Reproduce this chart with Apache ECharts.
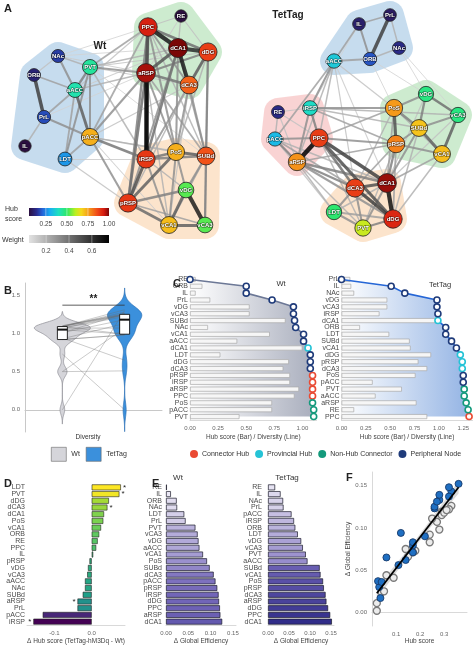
<!DOCTYPE html>
<html>
<head>
<meta charset="utf-8">
<script src="https://cdn.jsdelivr.net/npm/echarts@6/dist/echarts.min.js"></script>
<style>
  html, body { margin: 0; padding: 0; background: #fff; }
  #main { width: 474px; height: 646px; }
</style>
</head>
<body>
<div id="main"></div>
<script>
// ---- data ----
var regions = ['RE','ORB','IL','PrL','vDG','vCA3','SUBd','NAc','vCA1','aACC','dCA1','LDT','dDG','dCA3','pRSP','iRSP','aRSP','PPC','PoS','pACC','PVT'];

// hub score (scaled), panel C bars
var wtHub  = [0.05,0.11,0.05,0.18,0.53,0.53,0.85,0.16,0.71,0.42,1.00,0.27,0.88,0.83,0.89,0.89,0.97,0.93,0.73,0.73,0.44];
var tetHub = [0.13,0.19,0.10,0.09,0.47,0.47,0.70,0.13,0.71,0.35,0.98,0.49,0.92,0.88,0.79,0.39,0.77,0.88,0.76,0.32,0.62];
// diversity, panel C lines / panel B
var wtDiv  = [0.00,0.50,0.50,0.73,0.92,0.92,0.93,0.94,1.01,1.01,1.05,1.07,1.07,1.07,1.09,1.09,1.09,1.09,1.09,1.10,1.10];
var tetDiv = [1.30,1.07,0.51,0.00,0.98,0.98,1.13,0.65,1.18,1.26,0.99,1.07,1.22,1.24,1.24,0.99,1.28,1.31,1.25,1.25,1.26];
// node role
var wtRole  = ['P','P','P','P','P','P','P','P','P','P','PH','P','P','P','CH','CH','CH','CH','NC','NC','NC'];
var tetRole = ['NC','P','P','P','P','P','P','P','P','NC','PH','P','PH','PH','PH','P','NC','CH','P','P','NC'];
// panel D: delta hub score
var deltaHub = [0.016,0.020,0.004,-0.038,-0.010,-0.012,-0.024,-0.018,0.025,-0.018,0.033,0.078,0.046,0.042,-0.006,-0.156,-0.038,0.012,0.031,-0.131,0.074];
var deltaSig = ['LDT','PVT','dCA3','aRSP','iRSP'];
// panel E: delta global efficiency
var wtGE  = [0.002,0.024,0.011,0.044,0.073,0.071,0.098,0.025,0.083,0.075,0.126,0.041,0.119,0.107,0.115,0.118,0.122,0.121,0.092,0.111,0.066];
var tetGE = [0.017,0.065,0.030,0.037,0.079,0.083,0.123,0.036,0.125,0.094,0.152,0.071,0.143,0.137,0.133,0.062,0.139,0.148,0.131,0.056,0.090];
// panel F: raw hub score
var wtRawHub  = [0.02,0.04,0.02,0.06,0.18,0.17,0.28,0.05,0.24,0.14,0.33,0.09,0.29,0.27,0.29,0.30,0.32,0.31,0.24,0.25,0.15];
var tetRawHub = [0.035,0.06,0.03,0.025,0.17,0.17,0.26,0.04,0.26,0.12,0.36,0.17,0.33,0.32,0.28,0.14,0.28,0.32,0.27,0.11,0.22];

// category orders
var cWtOrder  = ['RE','ORB','IL','PrL','vDG','vCA3','SUBd','NAc','vCA1','aACC','dCA1','LDT','dDG','dCA3','pRSP','iRSP','aRSP','PPC','PoS','pACC','PVT'];
var cTetOrder = ['PrL','IL','NAc','vDG','vCA3','iRSP','dCA1','ORB','LDT','SUBd','vCA1','dDG','pRSP','dCA3','PoS','pACC','PVT','aACC','aRSP','RE','PPC'];
var dOrder    = ['LDT','PVT','dDG','dCA3','dCA1','PoS','vCA1','ORB','RE','PPC','IL','pRSP','vDG','vCA3','aACC','NAc','SUBd','aRSP','PrL','pACC','iRSP'];
var eWtOrder  = ['RE','IL','ORB','NAc','LDT','PrL','PVT','vCA3','vDG','aACC','vCA1','PoS','SUBd','dCA3','pACC','pRSP','iRSP','dDG','PPC','aRSP','dCA1'];
var eTetOrder = ['RE','IL','NAc','PrL','pACC','iRSP','ORB','LDT','vDG','vCA3','PVT','aACC','SUBd','vCA1','PoS','pRSP','dCA3','aRSP','dDG','PPC','dCA1'];

// network layouts (panel A)
var wtLayoutX  = [181,34,25,44,186,205,206,58,169,75,178,65,208,189,128,146,146,148,176,90,90];
var wtLayoutY  = [16,75,146,117,190,225,156,56,225,90,48,159,52,85,203,159,73,27,152,137,67];
var tetLayoutX = [278,370,359,390,426,458,419,399,442,334,387,334,393,355,396,310,297,319,394,275,363];
var tetLayoutY = [112,59,24,15,94,115,128,48,154,61,183,212,219,188,144,108,162,138,108,139,228];

var wtModules  = [['ORB','NAc','PVT','aACC','PrL','pACC','IL','LDT'],['PPC','RE','dCA1','dDG','aRSP','dCA3'],['iRSP','PoS','SUBd','vDG','pRSP','vCA1','vCA3']];
var tetModules = [['aACC','IL','PrL','NAc','ORB'],['RE','iRSP','pACC','PPC','aRSP'],['PoS','vDG','vCA3','SUBd','pRSP','vCA1'],['dCA3','dCA1','LDT','PVT','dDG']];

var wtEdges = [
  ['PPC','dCA1',0.68],['dCA1','dDG',0.62],['dCA1','dCA3',0.66],['PPC','aRSP',0.5],['dCA1','aRSP',0.48],['PPC','dDG',0.4],['aRSP','dDG',0.35],['aRSP','dCA3',0.38],['PPC','dCA3',0.3],['dDG','dCA3',0.45],['RE','PPC',0.15],['RE','dDG',0.15],['RE','dCA1',0.18],['RE','aRSP',0.12],
  ['iRSP','PoS',0.38],['PoS','SUBd',0.45],['iRSP','SUBd',0.35],['iRSP','pRSP',0.5],['PoS','pRSP',0.45],['vDG','vCA3',0.66],['vDG','vCA1',0.45],['vCA1','vCA3',0.45],['pRSP','vCA1',0.42],['pRSP','vDG',0.35],['SUBd','vCA3',0.35],['SUBd','vDG',0.3],['PoS','vCA1',0.3],['pRSP','vCA3',0.25],['iRSP','vCA1',0.3],['PoS','vDG',0.3],['SUBd','vCA1',0.25],['iRSP','vDG',0.2],
  ['aRSP','iRSP',0.75],['PPC','iRSP',0.45],['aRSP','pRSP',0.4],['PPC','pRSP',0.35],['dCA1','iRSP',0.4],['dCA1','PoS',0.3],['dDG','SUBd',0.35],['dCA3','SUBd',0.3],['dCA3','PoS',0.3],['dDG','vCA3',0.2],['dCA1','SUBd',0.25],['PPC','PoS',0.3],['aRSP','PoS',0.3],['aRSP','SUBd',0.25],['dCA3','iRSP',0.25],['dDG','PoS',0.2],['PPC','SUBd',0.2],['dCA3','vCA1',0.15],['dDG','iRSP',0.2],['dCA1','pRSP',0.3],['aRSP','vCA1',0.2],['dCA3','pRSP',0.2],
  ['ORB','PrL',0.55],['NAc','aACC',0.3],['PVT','aACC',0.35],['aACC','pACC',0.45],['PVT','LDT',0.3],['aACC','LDT',0.25],['PrL','aACC',0.25],['ORB','aACC',0.25],['PrL','IL',0.2],['PrL','pACC',0.3],['NAc','PVT',0.2],['pACC','LDT',0.25],['ORB','NAc',0.15],['PVT','pACC',0.3],
  ['pACC','iRSP',0.38],['pACC','pRSP',0.3],['pACC','aRSP',0.3],['pACC','PPC',0.25],['pACC','PoS',0.2],['PVT','aRSP',0.3],['PVT','PPC',0.25],['PVT','dCA1',0.2],['PVT','iRSP',0.2],['aACC','aRSP',0.2],['PVT','dDG',0.15],['NAc','PPC',0.1],['NAc','aRSP',0.12],['PVT','dCA3',0.15],['LDT','pRSP',0.15],['pACC','SUBd',0.15],['PrL','aRSP',0.1],['aACC','PPC',0.15],['aACC','dCA1',0.12],['pACC','dCA3',0.15],['pACC','vCA1',0.12],['LDT','iRSP',0.12],['PVT','SUBd',0.1],['NAc','dCA1',0.1]
];
var tetEdges = [
  ['PPC','aRSP',0.75],['dCA1','dDG',0.7],['PPC','dCA1',0.55],['dCA3','dCA1',0.5],['dCA3','dDG',0.55],['PrL','ORB',0.55],['PoS','pRSP',0.5],['vDG','vCA3',0.4],['SUBd','vCA1',0.45],['PPC','dDG',0.5],['aRSP','dCA3',0.35],
  ['IL','PrL',0.25],['IL','ORB',0.3],['IL','aACC',0.25],['aACC','ORB',0.25],['NAc','ORB',0.2],['NAc','PrL',0.2],['aACC','iRSP',0.3],['aACC','pACC',0.25],['aACC','PPC',0.2],['aACC','aRSP',0.2],['RE','pACC',0.2],['RE','iRSP',0.15],['iRSP','PPC',0.35],['iRSP','aRSP',0.3],['pACC','aRSP',0.35],['pACC','PPC',0.3],['iRSP','PoS',0.3],['iRSP','SUBd',0.2],['iRSP','vCA3',0.2],['PoS','SUBd',0.35],['PoS','vDG',0.3],['vDG','SUBd',0.35],['vCA3','SUBd',0.3],['vCA3','vCA1',0.45],['SUBd','pRSP',0.3],['pRSP','vCA1',0.3],['PoS','vCA1',0.2],['PPC','PoS',0.25],['PPC','pRSP',0.3],['aRSP','pRSP',0.25],['aRSP','dCA1',0.35],['aRSP','dDG',0.3],['PPC','dCA3',0.4],['pACC','dCA3',0.25],['pACC','dCA1',0.2],['dCA1','pRSP',0.35],['dCA1','SUBd',0.3],['dCA1','vCA1',0.25],['dCA1','PoS',0.25],['dCA3','pRSP',0.25],['dCA3','LDT',0.3],['dCA3','PVT',0.3],['LDT','PVT',0.3],['PVT','dDG',0.35],['LDT','dDG',0.25],['PVT','dCA1',0.3],['dDG','pRSP',0.25],['dDG','vCA1',0.2],['aRSP','LDT',0.2],['aRSP','PVT',0.2],['PPC','PVT',0.2],['pACC','LDT',0.15],['vDG','dCA1',0.15],['vCA3','dCA1',0.15],['SUBd','dDG',0.2],['PoS','dCA3',0.2],['iRSP','pRSP',0.25],['ORB','vDG',0.1],['NAc','vDG',0.1],['NAc','vCA3',0.1],['ORB','PoS',0.1],['aACC','PoS',0.15],['aACC','dCA3',0.15],['RE','aRSP',0.15],['RE','PPC',0.15],['PVT','pRSP',0.2],['LDT','dCA1',0.2],['IL','iRSP',0.1],['aACC','dCA1',0.12]
];

// ---- styles / helpers ----
var FONT = '"Liberation Sans", Arial, sans-serif';
var hubStops = [[0.05,'#2b0f3f'],[0.14,'#2a2d8f'],[0.21,'#2464d8'],[0.30,'#1ab0f0'],[0.40,'#1fe0c0'],[0.50,'#2ee866'],[0.60,'#b8f020'],[0.67,'#f5d81c'],[0.76,'#f59a1a'],[0.86,'#f04a18'],[0.94,'#d41a10'],[1.00,'#7a0606']];
var weightStops = [[0.05,'#e2e2e2'],[0.75,'#000000']];
var viridisStops = [[0,'#440154'],[0.11,'#482878'],[0.22,'#3e4989'],[0.33,'#31688e'],[0.44,'#26828e'],[0.56,'#1f9e89'],[0.67,'#35b779'],[0.78,'#6ece58'],[0.89,'#b5de2b'],[1,'#fde725']];
var purpleStops = [[0,'#f3f1f9'],[0.05,'#cdc7e5'],[0.09,'#9d93cf'],[0.12,'#6f63b6'],[0.155,'#2b2885']];
var roleNames = {CH:'Connector Hub', PH:'Provincial Hub', NC:'Non-Hub Connector', P:'Peripheral Node'};
var roleColors = {CH:'#ea4a33', PH:'#25c3d6', NC:'#149a7c', P:'#1f3b7a'};

function idx(n) { return regions.indexOf(n); }
function pick(arr, order) { return order.map(function (n) { return arr[idx(n)]; }); }
function ramp(stops, v) {
  if (v <= stops[0][0]) return stops[0][1];
  for (var i = 1; i < stops.length; i++) {
    if (v <= stops[i][0]) {
      var t = (v - stops[i - 1][0]) / (stops[i][0] - stops[i - 1][0]);
      return echarts.color.lerp(t, [stops[i - 1][1], stops[i][1]]);
    }
  }
  return stops[stops.length - 1][1];
}
function quantile(sorted, p) {
  var h = (sorted.length - 1) * p, lo = Math.floor(h);
  return sorted[lo] + (h - lo) * ((sorted[Math.min(lo + 1, sorted.length - 1)]) - sorted[lo]);
}
function kde(vals) {
  var n = vals.length, mean = vals.reduce(function (a, b) { return a + b; }) / n;
  var sd = Math.sqrt(vals.reduce(function (a, b) { return a + (b - mean) * (b - mean); }, 0) / (n - 1));
  var s = vals.slice().sort(function (a, b) { return a - b; });
  var bw = 0.9 * Math.min(sd, (quantile(s, 0.75) - quantile(s, 0.25)) / 1.34) * Math.pow(n, -0.2);
  var lo = s[0] - 3 * bw, hi = s[n - 1] + 3 * bw, out = [];
  for (var k = 0; k <= 160; k++) {
    var y = lo + (hi - lo) * k / 160, d = 0;
    vals.forEach(function (v) { var u = (y - v) / bw; d += Math.exp(-0.5 * u * u); });
    out.push([y, d / (n * bw * Math.sqrt(2 * Math.PI))]);
  }
  return out;
}
function convexHull(pts) {
  pts = pts.slice().sort(function (a, b) { return a[0] - b[0] || a[1] - b[1]; });
  function cross(o, a, b) { return (a[0] - o[0]) * (b[1] - o[1]) - (a[1] - o[1]) * (b[0] - o[0]); }
  var lower = [], upper = [];
  pts.forEach(function (p) { while (lower.length >= 2 && cross(lower[lower.length - 2], lower[lower.length - 1], p) <= 0) lower.pop(); lower.push(p); });
  for (var i = pts.length - 1; i >= 0; i--) { var p = pts[i]; while (upper.length >= 2 && cross(upper[upper.length - 2], upper[upper.length - 1], p) <= 0) upper.pop(); upper.push(p); }
  upper.pop(); lower.pop();
  return lower.concat(upper);
}

var chart = echarts.init(document.getElementById('main'), null, { renderer: 'canvas' });

// ---- panel A ----
function networkSeries(lx, ly, hub, edges) {
  return {
    type: 'graph', layout: 'none', coordinateSystem: 'cartesian2d', xAxisIndex: 0, yAxisIndex: 0, z: 3,
    silent: true, animation: false,
    data: regions.map(function (r, i) {
      return { name: r, value: [lx[i], ly[i]], symbolSize: 12 + 7 * hub[i], itemStyle: { color: ramp(hubStops, hub[i]) } };
    }),
    links: edges.slice().sort(function (a, b) { return a[2] - b[2]; }).map(function (e) {
      return { source: e[0], target: e[1], lineStyle: { width: 0.4 + e[2] * 5.5, color: ramp(weightStops, e[2]), opacity: 0.85 } };
    }),
    itemStyle: { borderColor: '#222', borderWidth: 0.8 },
    label: { show: true, position: 'inside', color: '#fff', fontSize: 6, fontWeight: 'bold', fontFamily: FONT, textBorderColor: 'rgba(0,0,0,0.55)', textBorderWidth: 1.2 },
    lineStyle: { curveness: 0 }
  };
}
function hullSeries(lx, ly, modules, colors) {
  return {
    type: 'custom', coordinateSystem: 'cartesian2d', xAxisIndex: 0, yAxisIndex: 0, z: 1, silent: true, animation: false,
    data: modules.map(function (m) { return [lx[idx(m[0])], ly[idx(m[0])]]; }),
    renderItem: function (params, api) {
      var pts = [];
      modules[params.dataIndex].forEach(function (n) {
        var c = api.coord([lx[idx(n)], ly[idx(n)]]);
        for (var a = 0; a < 28; a++) {
          var t = a / 28 * Math.PI * 2;
          pts.push([c[0] + 14 * Math.cos(t), c[1] + 14 * Math.sin(t)]);
        }
      });
      return { type: 'polygon', shape: { points: convexHull(pts) }, style: { fill: colors[params.dataIndex] } };
    }
  };
}

// ---- panel B ----
var wtCurve = kde(wtDiv), tetCurve = kde(tetDiv);
var maxDensity = Math.max.apply(null, wtCurve.concat(tetCurve).map(function (p) { return p[1]; }));
function violinSeries(name, center, curve, fill, stroke) {
  return {
    type: 'custom', name: name, coordinateSystem: 'cartesian2d', xAxisIndex: 1, yAxisIndex: 1, z: 2, silent: true, animation: false,
    itemStyle: { color: fill },
    data: [[center, 1]],
    renderItem: function (params, api) {
      var right = [], left = [];
      curve.forEach(function (p) {
        var w = p[1] / maxDensity * 0.45;
        right.push(api.coord([center + w, p[0]]));
        left.push(api.coord([center - w, p[0]]));
      });
      return { type: 'polygon', shape: { points: right.concat(left.reverse()) }, style: { fill: fill, stroke: stroke, lineWidth: 0.7 } };
    }
  };
}
function boxStats(vals, center) {
  var s = vals.slice().sort(function (a, b) { return a - b; });
  return [center, quantile(s, 0.25), quantile(s, 0.5), quantile(s, 0.75)];
}

// ---- panel F regression ----
var fx = wtRawHub.concat(tetRawHub), fy = wtGE.concat(tetGE);
var fn = fx.length, mx = fx.reduce(function (a, b) { return a + b; }) / fn, my = fy.reduce(function (a, b) { return a + b; }) / fn;
var sxx = 0, sxy = 0;
for (var i = 0; i < fn; i++) { sxx += (fx[i] - mx) * (fx[i] - mx); sxy += (fx[i] - mx) * (fy[i] - my); }
var slope = sxy / sxx, icpt = my - slope * mx, sse = 0;
for (i = 0; i < fn; i++) { var r = fy[i] - icpt - slope * fx[i]; sse += r * r; }
var sRes = Math.sqrt(sse / (fn - 2));
var xLo = Math.min.apply(null, fx), xHi = Math.max.apply(null, fx);
var bandUp = [], bandDn = [];
for (var k = 0; k <= 30; k++) {
  var xv = xLo + (xHi - xLo) * k / 30;
  var se = 2.02 * sRes * Math.sqrt(1 / fn + (xv - mx) * (xv - mx) / sxx);
  bandUp.push([xv, icpt + slope * xv + se]);
  bandDn.push([xv, icpt + slope * xv - se]);
}

// ---- axes helpers ----
var lbl = { fontFamily: FONT, color: '#666', fontSize: 6 };
function hiddenValueAxis(gi, min, max, inverse) {
  return { type: 'value', gridIndex: gi, min: min, max: max, inverse: !!inverse, show: false };
}
function catAxis(gi, order, margin) {
  return {
    type: 'category', gridIndex: gi, data: order, inverse: true,
    axisLine: { show: false }, axisTick: { show: false },
    axisLabel: { fontFamily: FONT, color: '#4a4a4a', fontSize: 7, margin: margin, interval: 0 }
  };
}
function valAxis(gi, min, max, ticks, digits, name, nameGap) {
  return {
    type: 'value', gridIndex: gi, min: min, max: max,
    axisLine: { show: true, lineStyle: { color: '#cfcfcf', width: 0.8 } }, axisTick: { show: false }, splitLine: { show: false },
    axisLabel: Object.assign({ customValues: ticks, margin: 5, formatter: function (v) { return v.toFixed(digits); } }, lbl),
    name: name, nameLocation: 'middle', nameGap: nameGap,
    nameTextStyle: { fontFamily: FONT, color: '#444', fontSize: 6.5 }
  };
}

// ---- panel C series ----
function cSeries(gi, order, hub, div, role, lineColor, areaColor) {
  var out = [
    { type: 'line', xAxisIndex: gi, yAxisIndex: gi, data: pick(div, order), symbol: 'none', z: 1, silent: true,
      lineStyle: { opacity: 0 },
      areaStyle: { opacity: 1, color: new echarts.graphic.LinearGradient(0, 0, 1, 0, [{ offset: 0, color: '#ffffff' }, { offset: 1, color: areaColor }]) } },
    { type: 'bar', xAxisIndex: gi, yAxisIndex: gi, data: pick(hub, order), barWidth: 5, z: 2, silent: true,
      itemStyle: { color: '#f6f6f6', borderColor: '#a9a9a9', borderWidth: 0.7 } },
    { type: 'line', xAxisIndex: gi, yAxisIndex: gi, data: pick(div, order), symbol: 'none', z: 3, silent: true,
      lineStyle: { color: lineColor, width: 1.6 } }
  ];
  ['CH', 'PH', 'NC', 'P'].forEach(function (rk) {
    out.push({
      type: 'scatter', name: roleNames[rk], xAxisIndex: gi, yAxisIndex: gi, z: 4, silent: true,
      symbol: 'circle', symbolSize: 6,
      itemStyle: { color: '#fff', borderColor: roleColors[rk], borderWidth: 1.6, opacity: 1 },
      data: order.filter(function (n) { return role[idx(n)] === rk; }).map(function (n) { return [div[idx(n)], n]; })
    });
  });
  return out;
}

var series = [];
series.push(hullSeries(wtLayoutX, wtLayoutY, wtModules, ['rgba(120,172,215,0.42)', 'rgba(130,205,135,0.40)', 'rgba(248,196,142,0.45)']));
series.push(hullSeries(tetLayoutX, tetLayoutY, tetModules, ['rgba(120,172,215,0.42)', 'rgba(240,150,150,0.42)', 'rgba(130,205,135,0.40)', 'rgba(248,196,142,0.45)']));
series.push(networkSeries(wtLayoutX, wtLayoutY, wtHub, wtEdges));
series.push(networkSeries(tetLayoutX, tetLayoutY, tetHub, tetEdges));

// B
series.push(violinSeries('Wt', 1, wtCurve, '#d5d5da', '#8d8d94'));
series.push(violinSeries('TetTag', 2, tetCurve, '#3b90dc', '#2a6fb5'));
series.push({
  type: 'custom', coordinateSystem: 'cartesian2d', xAxisIndex: 1, yAxisIndex: 1, z: 3, silent: true, animation: false,
  data: regions.map(function (r, i) { return [wtDiv[i], tetDiv[i]]; }),
  renderItem: function (params, api) {
    var a = api.coord([1, api.value(0)]), b = api.coord([2, api.value(1)]);
    return { type: 'line', shape: { x1: a[0], y1: a[1], x2: b[0], y2: b[1] }, style: { stroke: 'rgba(110,110,110,0.45)', lineWidth: 0.8 } };
  }
});
series.push({
  type: 'custom', coordinateSystem: 'cartesian2d', xAxisIndex: 1, yAxisIndex: 1, z: 4, silent: true, animation: false,
  data: [boxStats(wtDiv, 1), boxStats(tetDiv, 2)],
  renderItem: function (params, api) {
    var c = api.value(0);
    var tl = api.coord([c - 0.08, api.value(3)]), br = api.coord([c + 0.08, api.value(1)]);
    var m1 = api.coord([c - 0.08, api.value(2)]), m2 = api.coord([c + 0.08, api.value(2)]);
    return { type: 'group', children: [
      { type: 'rect', shape: { x: tl[0], y: tl[1], width: br[0] - tl[0], height: br[1] - tl[1] }, style: { fill: '#fff', stroke: '#111', lineWidth: 0.9 } },
      { type: 'line', shape: { x1: m1[0], y1: m1[1], x2: m2[0], y2: m2[1] }, style: { stroke: '#111', lineWidth: 2 } }
    ] };
  }
});
series.push({
  type: 'custom', coordinateSystem: 'cartesian2d', xAxisIndex: 1, yAxisIndex: 1, z: 4, silent: true, animation: false,
  data: [[1.5, 1.37]],
  renderItem: function (params, api) {
    var a = api.coord([1, api.value(1)]), b = api.coord([2, api.value(1)]), m = api.coord([1.5, api.value(1)]);
    return { type: 'group', children: [
      { type: 'line', shape: { x1: a[0], y1: a[1], x2: b[0], y2: b[1] }, style: { stroke: '#333', lineWidth: 0.8 } },
      { type: 'text', x: m[0], y: m[1] - 1, style: { text: '**', fontSize: 10, fontWeight: 'bold', fill: '#222', align: 'center', verticalAlign: 'bottom', fontFamily: FONT } }
    ] };
  }
});

// C
series = series.concat(cSeries(2, cWtOrder, wtHub, wtDiv, wtRole, '#6c7896', '#a9aebd'));
series = series.concat(cSeries(3, cTetOrder, tetHub, tetDiv, tetRole, '#2566d6', '#94b4e4'));

// D
var dMin = Math.min.apply(null, deltaHub), dMax = Math.max.apply(null, deltaHub);
series.push({
  type: 'bar', xAxisIndex: 4, yAxisIndex: 4, barCategoryGap: '12%', silent: true,
  data: dOrder.map(function (n) {
    var v = deltaHub[idx(n)];
    return {
      value: v,
      itemStyle: { color: ramp(viridisStops, (v - dMin) / (dMax - dMin)), borderColor: '#222', borderWidth: 0.6 },
      label: { show: deltaSig.indexOf(n) >= 0, position: v > 0 ? 'right' : 'left', formatter: '*', distance: 2, fontSize: 8, color: '#222', fontFamily: FONT }
    };
  })
});
// E
[[5, eWtOrder, wtGE], [6, eTetOrder, tetGE]].forEach(function (cfg) {
  series.push({
    type: 'bar', xAxisIndex: cfg[0], yAxisIndex: cfg[0], barCategoryGap: '12%', silent: true,
    data: cfg[1].map(function (n) {
      var v = cfg[2][idx(n)];
      return { value: v, itemStyle: { color: ramp(purpleStops, v), borderColor: '#1a1a2a', borderWidth: 0.7 } };
    })
  });
});
// F
series.push({
  type: 'custom', coordinateSystem: 'cartesian2d', xAxisIndex: 7, yAxisIndex: 7, z: 1, silent: true, animation: false,
  data: [[mx, my]],
  renderItem: function (params, api) {
    var pts = bandUp.map(function (p) { return api.coord(p); }).concat(bandDn.slice().reverse().map(function (p) { return api.coord(p); }));
    return { type: 'polygon', shape: { points: pts }, style: { fill: 'rgba(150,150,150,0.35)' } };
  }
});
series.push({
  type: 'scatter', xAxisIndex: 7, yAxisIndex: 7, z: 2, silent: true, symbolSize: 7,
  itemStyle: { color: '#ececec', borderColor: '#7a7a7a', borderWidth: 1.3, opacity: 1 },
  data: regions.map(function (r, i) { return [wtRawHub[i], wtGE[i]]; })
});
series.push({
  type: 'scatter', xAxisIndex: 7, yAxisIndex: 7, z: 3, silent: true, symbolSize: 7,
  itemStyle: { color: '#1f6fc2', borderColor: '#173a6a', borderWidth: 0.9, opacity: 1 },
  data: regions.map(function (r, i) { return [tetRawHub[i], tetGE[i]]; })
});
series.push({
  type: 'line', xAxisIndex: 7, yAxisIndex: 7, z: 4, silent: true, symbol: 'none',
  lineStyle: { color: '#000', width: 1.8 },
  data: [[xLo, icpt + slope * xLo], [xHi, icpt + slope * xHi]]
});

// ---- graphic: letters, titles, colour bars ----
function txt(x, y, text, size, opts) {
  opts = opts || {};
  return { type: 'text', x: x, y: y, silent: true, z: 50,
    style: { text: text, fontSize: size, fontWeight: opts.bold ? 'bold' : 'normal', fill: opts.fill || '#222', fontFamily: FONT,
      align: opts.align || 'left', verticalAlign: opts.valign || 'middle' } };
}
var graphics = [
  txt(4, 9, 'A', 11, { bold: true }), txt(4, 291, 'B', 11, { bold: true }), txt(173, 284, 'C', 11, { bold: true }),
  txt(4, 484, 'D', 11, { bold: true }), txt(152, 484, 'E', 11, { bold: true }), txt(346, 478, 'F', 11, { bold: true }),
  txt(100, 46, 'Wt', 10, { bold: true, align: 'center' }), txt(288, 15, 'TetTag', 10, { bold: true, align: 'center' }),
  txt(281, 284, 'Wt', 7.5, { align: 'center', fill: '#333' }), txt(440, 285, 'TetTag', 7.5, { align: 'center', fill: '#333' }),
  txt(178, 478, 'Wt', 8, { align: 'center', fill: '#333' }), txt(287, 478, 'TetTag', 8, { align: 'center', fill: '#333' }),
  txt(88, 437, 'Diversity', 6.5, { align: 'center', fill: '#333' }),
  txt(5, 209, 'Hub', 7, { fill: '#333' }), txt(5, 219, 'score', 7, { fill: '#333' }), txt(2, 240, 'Weight', 7, { fill: '#333' }),
  { type: 'rect', silent: true, z: 50, shape: { x: 29, y: 208, width: 80, height: 8 },
    style: { fill: new echarts.graphic.LinearGradient(0, 0, 1, 0, hubStops.map(function (s) { return { offset: (s[0] - 0.05) / 0.95, color: s[1] }; })) } },
  { type: 'rect', silent: true, z: 50, shape: { x: 29, y: 235, width: 80, height: 8 },
    style: { fill: new echarts.graphic.LinearGradient(0, 0, 1, 0, weightStops.map(function (s) { return { offset: (s[0] - 0.05) / 0.7, color: s[1] }; })) } }
];
[0.25, 0.5, 0.75, 1.0].forEach(function (v) {
  var x = 29 + (v - 0.05) / 0.95 * 80;
  if (v < 1) graphics.push({ type: 'line', silent: true, z: 51, shape: { x1: x, y1: 208, x2: x, y2: 216 }, style: { stroke: 'rgba(255,255,255,0.7)', lineWidth: 0.6 } });
  graphics.push(txt(x, 224, v.toFixed(2), 6.5, { align: 'center', fill: '#444' }));
});
[0.2, 0.4, 0.6].forEach(function (v) {
  var x = 29 + (v - 0.05) / 0.7 * 80;
  graphics.push({ type: 'line', silent: true, z: 51, shape: { x1: x, y1: 235, x2: x, y2: 243 }, style: { stroke: 'rgba(255,255,255,0.6)', lineWidth: 0.6 } });
  graphics.push(txt(x, 251, v.toFixed(1), 6.5, { align: 'center', fill: '#444' }));
});

var option = {
  animation: false,
  textStyle: { fontFamily: FONT },
  grid: [
    { left: 0, top: 0, width: 474, height: 270 },          // A
    { left: 25, top: 283, width: 137, height: 149 },       // B
    { left: 190, top: 276, width: 126.5, height: 144 },    // C Wt
    { left: 341.5, top: 276, width: 131, height: 144 },    // C TetTag
    { left: 27, top: 484, width: 98, height: 142 },        // D
    { left: 166, top: 484, width: 70, height: 142 },       // E Wt
    { left: 268, top: 484, width: 66, height: 142 },       // E TetTag
    { left: 372, top: 472, width: 95, height: 160 }        // F
  ],
  xAxis: [
    hiddenValueAxis(0, 0, 474),
    { type: 'value', gridIndex: 1, min: 0.4, max: 2.6, axisLine: { show: true, lineStyle: { color: '#c8c8c8' } }, axisTick: { show: false }, axisLabel: { show: false }, splitLine: { show: false } },
    valAxis(2, 0, 1.125, [0, 0.25, 0.5, 0.75, 1.0], 2, 'Hub score (Bar) / Diversity (Line)', 14),
    valAxis(3, 0, 1.345, [0, 0.25, 0.5, 0.75, 1.0, 1.25], 2, 'Hub score (Bar) / Diversity (Line)', 14),
    valAxis(4, -0.173, 0.089, [-0.1, 0], 1, '\u0394 Hub score (TetTag-hM3Dq - Wt)', 13),
    valAxis(5, 0, 0.157, [0, 0.05, 0.1, 0.15], 2, '\u0394 Global Efficiency', 13),
    valAxis(6, 0, 0.157, [0, 0.05, 0.1, 0.15], 2, '\u0394 Global Efficiency', 13),
    valAxis(7, 0, 0.395, [0.1, 0.2, 0.3], 1, 'Hub score', 12)
  ],
  yAxis: [
    hiddenValueAxis(0, 0, 270, true),
    { type: 'value', gridIndex: 1, min: -0.29, max: 1.66, axisLine: { show: true, lineStyle: { color: '#c8c8c8' } }, axisTick: { show: false }, splitLine: { show: false },
      axisLabel: Object.assign({ customValues: [0, 0.5, 1, 1.5], margin: 5, formatter: function (v) { return v.toFixed(1); } }, lbl) },
    Object.assign(catAxis(2, cWtOrder, 2), { axisLine: { show: true, lineStyle: { color: '#cfcfcf', width: 0.8 } } }),
    Object.assign(catAxis(3, cTetOrder, 2), { axisLine: { show: true, lineStyle: { color: '#cfcfcf', width: 0.8 } } }),
    catAxis(4, dOrder, 2),
    catAxis(5, eWtOrder, 4),
    catAxis(6, eTetOrder, 6),
    Object.assign(valAxis(7, -0.016, 0.166, [0, 0.05, 0.1, 0.15], 2, '\u0394 Global Efficiency', 20), { nameRotate: 90 })
  ],
  legend: [
    { data: ['Wt', 'TetTag'], left: 46, top: 442, icon: 'rect', itemWidth: 15, itemHeight: 14, itemGap: 6,
      itemStyle: { borderColor: '#666', borderWidth: 0.6 }, textStyle: { fontSize: 7, color: '#333', fontFamily: FONT }, selectedMode: false },
    { data: ['CH', 'PH', 'NC', 'P'].map(function (k) { return { name: roleNames[k], icon: 'circle', itemStyle: { color: roleColors[k], borderWidth: 0 } }; }),
      left: 190, top: 450, width: 290, padding: 0, itemWidth: 8, itemHeight: 8, itemGap: 6,
      textStyle: { fontSize: 7, color: '#333', fontFamily: FONT, padding: [0, 0, 0, -1] }, selectedMode: false }
  ],
  graphic: graphics,
  series: series
};
chart.setOption(option);
</script>
</body>
</html>
